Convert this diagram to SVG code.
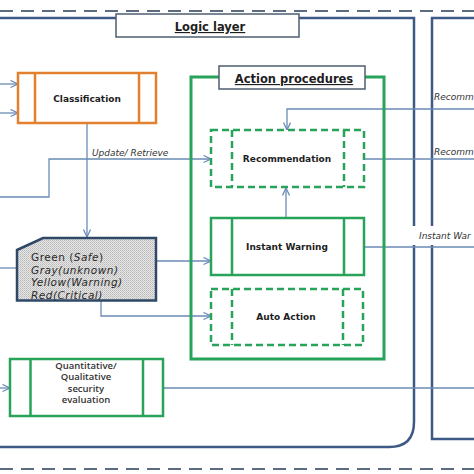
<svg xmlns="http://www.w3.org/2000/svg" width="474" height="474" viewBox="0 0 474 474">
<defs>
<marker id="arr" markerWidth="10" markerHeight="10" refX="8" refY="4" orient="auto" markerUnits="userSpaceOnUse">
<path d="M0.5,0.5 L8,4 L0.5,7.5" fill="none" stroke="#6a8bb5" stroke-width="1.3"/>
</marker>
<pattern id="stip" width="2" height="2" patternUnits="userSpaceOnUse">
<rect width="2" height="2" fill="#e6e6e6"/>
<rect width="1" height="1" fill="#b8b8b8"/>
<rect x="1" y="1" width="1" height="1" fill="#c8c8c8"/>
</pattern>
<style>
.dash{fill:none;stroke:#5b6b80;stroke-width:2.2;stroke-dasharray:13 8}
.frame{fill:none;stroke:#3c5a85;stroke-width:2.5}
.title{fill:#fff;stroke:#4f5e70;stroke-width:1.5}
.gs{fill:#fff;stroke:#27a35a;stroke-width:2.5}
.gd{fill:#fff;stroke:#27a35a;stroke-width:2.5;stroke-dasharray:7 4}
.gdl{fill:none;stroke:#27a35a;stroke-width:2.5;stroke-dasharray:7 4}
.gl{fill:none;stroke:#27a35a;stroke-width:2.5}
.con{fill:none;stroke:#6a8bb5;stroke-width:1.3}
.lbl{font-family:"DejaVu Sans",sans-serif;font-weight:bold;font-size:9px;fill:#1e1e1e;text-anchor:middle}
.ttl{font-family:"DejaVu Sans",sans-serif;font-weight:bold;font-size:11.5px;fill:#1e1e1e;text-anchor:middle;text-decoration:underline}
.it{font-family:"DejaVu Sans",sans-serif;font-style:italic;font-size:9px;fill:#333}
.st{font-family:"DejaVu Sans",sans-serif;font-size:10.5px;fill:#2a2a2a;letter-spacing:0.5px}
.qt{font-family:"Open Sans",sans-serif;font-weight:600;font-size:9.5px;fill:#333;text-anchor:middle}
</style>
</defs>
<rect width="474" height="474" fill="#fff"/>

<g id="dashed-borders">
<line class="dash" x1="0" y1="11" x2="474" y2="11"/>
<line class="dash" x1="0" y1="469" x2="474" y2="469"/>
</g>

<g id="logic-layer">
<path class="frame" d="M0,18 L414,18 L414,226 M414,245 L414,422 Q414,447 389,447 L0,447"/>
<rect class="title" x="116" y="14" width="183" height="23"/>
<text class="ttl" x="210" y="31">Logic layer</text>
</g>

<g id="right-layer">
<path class="frame" d="M474,18 L432,18 L432,226 M432,245 L432,439 L474,439"/>
</g>

<g id="connectors">
<path class="con" d="M0,84 L18,84" marker-end="url(#arr)"/>
<path class="con" d="M0,113 L18,113" marker-end="url(#arr)"/>
<path class="con" d="M87,123 L87,237" marker-end="url(#arr)"/>
<path class="con" d="M0,197 L49,197 L49,159 L211,159" marker-end="url(#arr)"/>
<path class="con" d="M0,268 L17,268"/>
<path class="con" d="M156,261 L211,261" marker-end="url(#arr)"/>
<path class="con" d="M101,300 L101,316 L211,316" marker-end="url(#arr)"/>
<path class="con" d="M286,218 L286,188" marker-end="url(#arr)"/>
<path class="con" d="M474,109 L287,109 L287,130" marker-end="url(#arr)"/>
<path class="con" d="M364,159 L474,159"/>
<path class="con" d="M364,247 L474,247"/>
<path class="con" d="M0,388 L10,388" marker-end="url(#arr)"/>
<path class="con" d="M163,388 L474,388"/>
<text class="it" x="92" y="156">Update/ Retrieve</text>
<text class="it" x="434" y="100" font-size="8.8">Recomm</text>
<text class="it" x="434" y="155" font-size="8.3">Recomm</text>
<text class="it" x="419" y="239">Instant War</text>
</g>

<g id="classification">
<rect x="18" y="73" width="138" height="50" fill="#fff" stroke="#e2802f" stroke-width="2.5"/>
<line x1="35" y1="73" x2="35" y2="123" stroke="#e2802f" stroke-width="2.5"/>
<line x1="139" y1="73" x2="139" y2="123" stroke="#e2802f" stroke-width="2.5"/>
<text class="lbl" x="87" y="102">Classification</text>
</g>

<g id="status-levels">
<path d="M17,250 L43,238 L156,238 L156,300.5 L17,300.5 Z" fill="url(#stip)" stroke="#2f4868" stroke-width="2.5" stroke-linejoin="miter"/>
<text class="st" x="31" y="261">Green (<tspan font-style="italic">Safe</tspan>)</text>
<text class="st" x="31" y="273.5" font-style="italic">Gray(unknown)</text>
<text class="st" x="31" y="286" font-style="italic">Yellow(Warning)</text>
<text class="st" x="31" y="298.5" font-style="italic">Red(Critical)</text>
</g>

<g id="action-procedures">
<rect x="191" y="77" width="193" height="282" fill="none" stroke="#27a35a" stroke-width="3"/>
<rect class="title" x="219" y="66" width="146" height="23"/>
<text class="ttl" x="294" y="83">Action procedures</text>
</g>

<g id="recommendation">
<rect class="gd" x="211" y="130" width="153" height="57"/>
<line class="gdl" x1="232" y1="130" x2="232" y2="187"/>
<line class="gdl" x1="344" y1="130" x2="344" y2="187"/>
<text class="lbl" x="287" y="162" font-size="8.5">Recommendation</text>
</g>

<g id="instant-warning">
<rect class="gs" x="211" y="218" width="153" height="57"/>
<line class="gl" x1="232" y1="218" x2="232" y2="275"/>
<line class="gl" x1="344" y1="218" x2="344" y2="275"/>
<text class="lbl" x="287" y="250">Instant Warning</text>
</g>

<g id="auto-action">
<rect class="gd" x="211" y="289" width="152" height="56"/>
<line class="gdl" x1="232" y1="289" x2="232" y2="345"/>
<line class="gdl" x1="343" y1="289" x2="343" y2="345"/>
<text class="lbl" x="286" y="320">Auto Action</text>
</g>

<g id="security-evaluation">
<rect class="gs" x="10" y="359" width="153" height="57"/>
<line class="gl" x1="30.5" y1="359" x2="30.5" y2="416"/>
<line class="gl" x1="143" y1="359" x2="143" y2="416"/>
<text class="qt" x="86" y="368.5">Quantitative/</text>
<text class="qt" x="86" y="380">Qualitative</text>
<text class="qt" x="86" y="391.5">security</text>
<text class="qt" x="86" y="403">evaluation</text>
</g>
</svg>
